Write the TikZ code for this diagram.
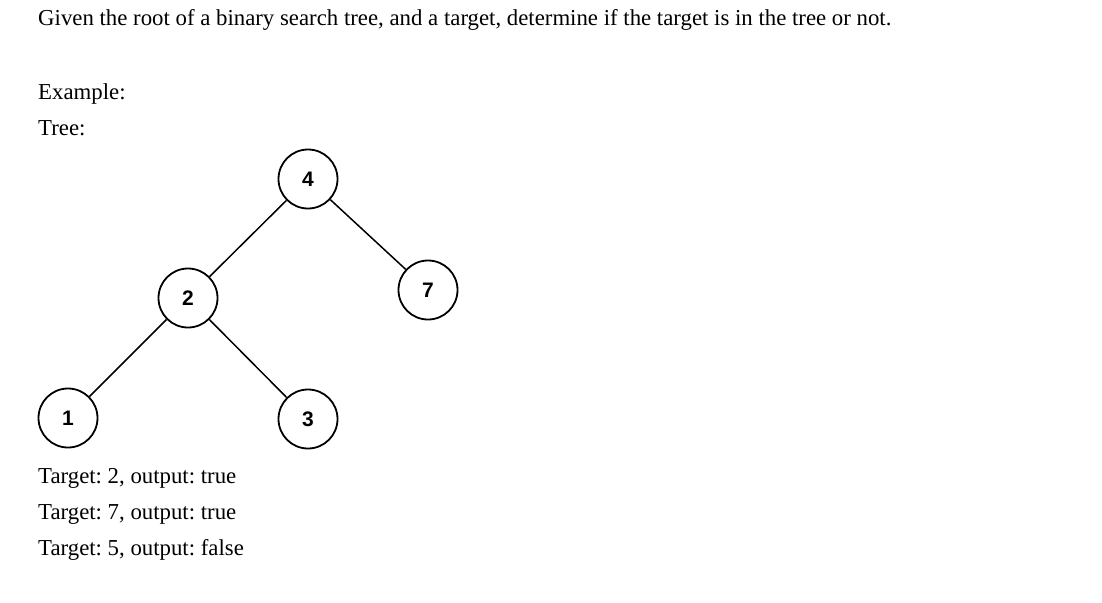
\documentclass[tikz,border=0pt]{standalone}
\usepackage{fontspec}
\setmainfont{Liberation Serif}
\newfontfamily\nodefont{Liberation Sans}
\frenchspacing
\tikzset{
    treenode/.style={draw, circle, line width=1.8pt, minimum size=59pt, inner sep=0pt, font=\nodefont\bfseries\fontsize{21}{23}\selectfont},
    edge/.style={line width=1.5pt},
    line/.style={anchor=base west, inner sep=0pt, font=\fontsize{22.8}{26}\selectfont}
}

\begin{document}
\begin{tikzpicture}[x=1pt, y=-1pt]
    \useasboundingbox (0,0) rectangle (1102,602);

    \node[line] (intro) at (38,26) {Given the root of a binary search tree, and a target, determine if the target is in the tree or not.};
    \node[line] (example) at (38,99) {Example:};
    \node[line] (tree) at (38,135) {Tree:};

    \node[treenode] (n4) at (308,179) {4};
    \node[treenode] (n2) at (188,298) {2};
    \node[treenode] (n7) at (428,290) {7};
    \node[treenode] (n1) at (68,418) {1};
    \node[treenode] (n3) at (308,419) {3};

    \draw[edge] (n4) -- (n2);
    \draw[edge] (n4) -- (n7);
    \draw[edge] (n2) -- (n1);
    \draw[edge] (n2) -- (n3);

    \node[line] (t1) at (38,483) {Target: 2, output: true};
    \node[line] (t2) at (38,519) {Target: 7, output: true};
    \node[line] (t3) at (38,555) {Target: 5, output: false};

\end{tikzpicture}
\end{document}
